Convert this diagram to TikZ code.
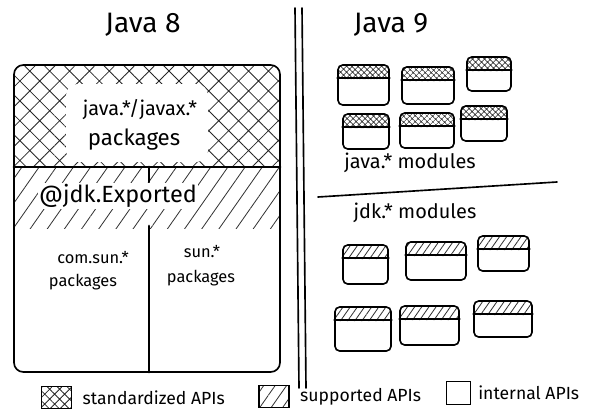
\documentclass[tikz,border=0pt]{standalone}
\usepackage{fontspec}
\setmainfont{Fira Sans}
\usetikzlibrary{positioning, patterns.meta}

\tikzset{
  sketch/.style={line width=1.4pt, line join=round, line cap=round},
  thickline/.style={line width=2.4pt, line cap=round},
  xhatch/.style={pattern={Hatch[angle=45, distance=#1, line width=0.7pt]}, pattern color=black!85},
  xhatch/.default=12pt,
  shatch/.style={pattern={Lines[angle=55, distance=#1, line width=0.7pt]}, pattern color=black!80},
  shatch/.default=12pt,
  title/.style={font=\fontsize{24}{28}\selectfont},
  lbl/.style={font=\fontsize{17}{20}\selectfont},
  small/.style={font=\fontsize{14}{17}\selectfont},
  legend/.style={font=\fontsize{15}{18}\selectfont, anchor=west},
  modbox/.style={draw, sketch, rounded corners=4pt, inner sep=0pt},
  legbox/.style={draw, line width=1.1pt, inner sep=0pt, minimum width=0.9cm, minimum height=0.68cm}
}

% module box: name, centre, width, height (px), band pattern
\newcommand{\apimodule}[5]{%
  \node[modbox, minimum width=#3*0.03cm, minimum height=#4*0.03cm,
        path picture={\fill[#5] (path picture bounding box.north west)
          rectangle ([yshift=-0.42cm]path picture bounding box.north east);}] (#1) at #2 {};
  \draw[sketch] ([yshift=-0.42cm]#1.north west) -- ([yshift=-0.42cm]#1.north east);
}

\begin{document}
\begin{tikzpicture}[x=0.03cm, y=-0.03cm]
\useasboundingbox (0,0) rectangle (589,419);

% Java 8
\node[title] (jeight) at (143,25) {Java 8};
\begin{scope}
  \clip[rounded corners=8pt] (14,65) rectangle (280,372);
  \fill[xhatch] (14,65) rectangle (280,167);
  \fill[white, rounded corners=10pt] (66,84) rectangle (208,162);
  \fill[shatch] (14,167) rectangle (280,228);
\end{scope}
\draw[sketch, rounded corners=8pt] (14,65) rectangle (280,372);
\draw[thickline] (14,167) -- (280,167);
\draw[thickline] (149,167) -- (149,182);
\draw[thickline] (149,226) -- (149,372);

\node[lbl] (javax) at (140,110) {java.*/javax.*};
\node[lbl, font=\fontsize{19}{22}\selectfont] (javaxpk) at (134,140) {packages};
\node[lbl, font=\fontsize{20}{24}\selectfont, fill=white, inner sep=1pt] (exported) at (118,196) {@jdk.Exported};
\node[small] (comsun) at (93,258) {com.sun.*};
\node[small] (comsunpk) at (83,282) {packages};
\node[small] (sun) at (202,252) {sun.*};
\node[small] (sunpk) at (201,278) {packages};

% divider
\draw[sketch] (295,8) -- (299,388);
\draw[sketch] (302,8) -- (306,388);

% Java 9
\node[title] (jnine) at (391,25) {Java 9};
\apimodule{jmA}{(363.5,85)}{51}{40}{xhatch=4pt}
\apimodule{jmB}{(428,85.5)}{52}{37}{xhatch=4pt}
\apimodule{jmC}{(489,74)}{44}{34}{xhatch=4pt}
\apimodule{jmD}{(366,131.5)}{46}{35}{xhatch=4pt}
\apimodule{jmE}{(427,130.5)}{54}{35}{xhatch=4pt}
\apimodule{jmF}{(484,123.5)}{46}{35}{xhatch=4pt}
\node[lbl] (javamods) at (410,163) {java.* modules};

\draw[sketch] (318,197) -- (557,182);

\node[lbl] (jdkmods) at (415,213) {jdk.* modules};
\apimodule{dmA}{(365.5,264.5)}{45}{39}{shatch=5pt}
\apimodule{dmB}{(436,261)}{60}{38}{shatch=5pt}
\apimodule{dmC}{(503.5,253.5)}{51}{35}{shatch=5pt}
\apimodule{dmD}{(363,329)}{56}{44}{shatch=5pt}
\apimodule{dmE}{(429.5,325.5)}{59}{39}{shatch=5pt}
\apimodule{dmF}{(503,319)}{58}{36}{shatch=5pt}

% legend
\node[legbox, xhatch=6pt] (stdbox) at (56.5,397.5) {};
\node[legend, right=0.2cm of stdbox] (stdtxt) {standardized APIs};
\node[legbox, shatch=8pt] (supbox) at (274,396.5) {};
\node[legend, right=0.2cm of supbox] (suptxt) {supported APIs};
\node[legbox, minimum width=0.7cm] (intbox) at (458.5,393) {};
\node[legend, right=0.1cm of intbox] (inttxt) {internal APIs};
\end{tikzpicture}
\end{document}
